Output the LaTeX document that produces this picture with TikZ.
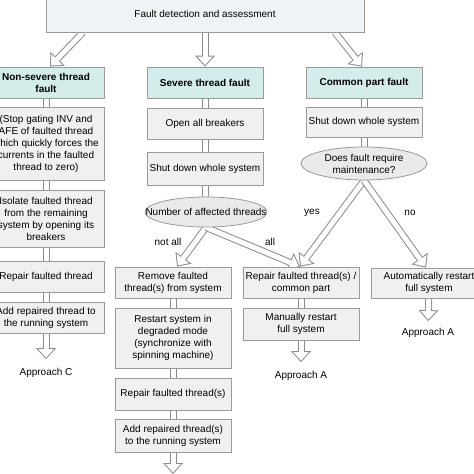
\documentclass[tikz,border=0pt]{standalone}
\usepackage{fontspec}
\setmainfont{Liberation Sans}
\usetikzlibrary{shapes.geometric,arrows.meta,backgrounds}
\definecolor{linegray}{HTML}{9A9A9A}
\definecolor{arrgray}{HTML}{8C8C8C}
\definecolor{topfill}{HTML}{EFF3F6}
\definecolor{headfill}{HTML}{D4ECEA}
\definecolor{stepfill}{HTML}{EEF0F2}
\definecolor{ovalfill}{HTML}{E8EAEC}

\begin{document}
\begin{tikzpicture}[x=1pt, y=-1pt,
  box/.style={rectangle, draw=linegray, line width=0.8pt, fill=#1, minimum width=116pt, minimum height=31pt, inner sep=2pt, align=center},
  box/.default=stepfill,
  head/.style={box=headfill, font=\bfseries},
  oval/.style={ellipse, draw=linegray, line width=0.8pt, fill=ovalfill, inner sep=0pt},
  note/.style={inner sep=1pt, align=center},
  pipe/.style={draw=arrgray, line width=7pt, postaction={draw=white, line width=5pt}},
  flow/.style={draw=arrgray, line width=7pt, -{Triangle[length=11pt, width=20pt, line width=0pt]},
    postaction={draw=white, line width=5pt, -{Triangle[length=8.5pt, width=15.5pt, line width=0pt, sep=1.5pt]}}}
]
  \useasboundingbox (0,0) rectangle (474,474);
  \clip (0,0) rectangle (474,474);

  % top and the three fault classes
  \node[box=topfill, minimum width=318pt, minimum height=36pt] (detect) at (205,14) {Fault detection and assessment};
  \node[head] (nonsev) at (46,82.5) {Non-severe thread\\fault};
  \node[head] (severe) at (205,82.5) {Severe thread fault};
  \node[head] (common) at (364,82.5) {Common part fault};

  % non-severe branch
  \node[box, minimum height=73pt] (stopgate) at (46,143.5) {(Stop gating INV and\\AFE of faulted thread\\which quickly forces the\\currents in the faulted\\thread to zero)};
  \node[box, minimum height=57pt] (isolate) at (46,218.5) {Isolate faulted thread\\from the remaining\\system by opening its\\breakers};
  \node[box] (repairone) at (46,276.5) {Repair faulted thread};
  \node[box] (addone) at (46,317.5) {Add repaired thread to\\the running system};
  \node[note] (appC) at (46,373) {Approach C};

  % severe branch
  \node[box] (openbrk) at (205,124) {Open all breakers};
  \node[box, minimum height=33pt] (shutmid) at (205,168.5) {Shut down whole system};
  \node[oval, minimum width=122pt, minimum height=30pt] (numthr) at (206,212) {};
  \node[note] (numthrtxt) at (numthr) {Number of affected threads};
  \node[box] (remove) at (173,282.5) {Remove faulted\\thread(s) from system};
  \node[box, minimum height=60pt] (restart) at (173,338) {Restart system in\\degraded mode\\(synchronize with\\spinning machine)};
  \node[box, minimum height=32pt] (repairtwo) at (173,394) {Repair faulted thread(s)};
  \node[box, minimum height=33pt] (addtwo) at (173,435.5) {Add repaired thread(s)\\to the running system};
  \coordinate (bottomend) at (173,474);

  % common part branch
  \node[box, minimum height=30pt] (shutright) at (364,122) {Shut down whole system};
  \node[oval, minimum width=126pt, minimum height=33pt] (maint) at (364,163.5) {};
  \node[note] (mainttxt) at (maint) {Does fault require\\maintenance?};
  \node[box] (repaircp) at (301,282.5) {Repair faulted thread(s) /\\common part};
  \node[box, minimum height=32pt] (manual) at (301,324) {Manually restart\\full system};
  \node[note] (appAone) at (301,376) {Approach A};
  \node[box, minimum height=30pt] (autorst) at (429,283) {Automatically restart\\full system};
  \node[note] (appAtwo) at (428,333) {Approach A};

  % branch labels
  \node[note] (lnotall) at (168,242) {not all};
  \node[note] (lall) at (270,242) {all};
  \node[note] (lyes) at (312,213) {yes};
  \node[note] (lno) at (410,213) {no};

  \begin{scope}[on background layer]
    \fill[white] (0,0) rectangle (474,474);
    \draw[flow] ([xshift=-122pt]detect.south) -- ([xshift=4pt]nonsev.north);
    \draw[flow] (detect.south) -- (severe.north);
    \draw[flow] ([xshift=130pt]detect.south) -- ([xshift=-2pt]common.north);

    \draw[pipe] (nonsev) -- (stopgate);
    \draw[pipe] (stopgate) -- (isolate);
    \draw[pipe] (isolate) -- (repairone);
    \draw[pipe] (repairone) -- (addone);
    \draw[flow, shorten >=8pt] (addone) -- (appC);

    \draw[pipe] (severe) -- (openbrk);
    \draw[pipe] (openbrk) -- (shutmid);
    \draw[pipe] (shutmid) -- (numthr);
    \draw[flow] (numthr.south) -- ([xshift=4pt]remove.north);
    \draw[flow] (numthr.south) -- ([xshift=-1pt]repaircp.north);
    \draw[pipe] (remove) -- (restart);
    \draw[pipe] (restart) -- (repairtwo);
    \draw[pipe] (repairtwo) -- (addtwo);
    \draw[flow] (addtwo) -- (bottomend);

    \draw[pipe] (common) -- (shutright);
    \draw[pipe] (shutright) -- (maint);
    \draw[flow] (maint.south) -- ([xshift=-1pt]repaircp.north);
    \draw[flow] (maint.south) -- ([xshift=-3pt]autorst.north);
    \draw[pipe] (repaircp) -- (manual);
    \draw[flow, shorten >=8pt] (manual) -- (appAone);
    \draw[flow, shorten >=6pt] (autorst) -- (appAtwo);
  \end{scope}
\end{tikzpicture}
\end{document}
